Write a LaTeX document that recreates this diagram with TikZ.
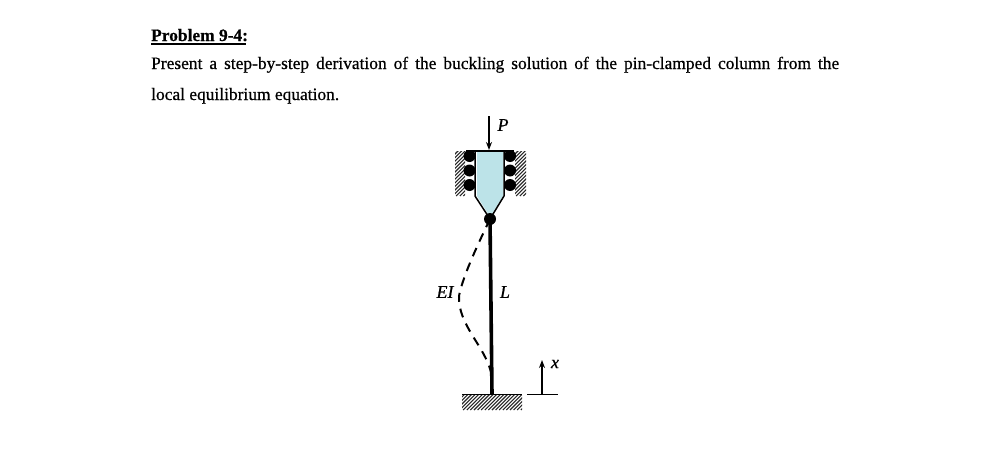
\documentclass[tikz,border=0pt]{standalone}
\usepackage{fontspec}
\setmainfont{Liberation Serif}
\newfontfamily\bodyfont[FakeBold=0.6]{Liberation Serif}
\usetikzlibrary{arrows.meta}
\definecolor{bodycyan}{HTML}{BCE3E8}
\tikzset{
  txt/.style={anchor=base west,inner sep=0pt,font=\bodyfont\fontsize{17.4}{20}\selectfont},
  lab/.style={inner sep=0pt,font=\bodyfont\itshape\fontsize{18}{20}\selectfont},
  hatchline/.style={line width=1.1pt,black!85},
  roller/.style={circle,fill=black,minimum size=12pt,inner sep=0pt},
  pin/.style={circle,fill=black,minimum size=12pt,inner sep=0pt},
  arr/.style={-{Stealth[length=8pt,width=6pt]},line width=1.3pt},
}
\newcommand{\hatchrect}[4]{%
  \begin{scope}
    \clip (#1,#2) rectangle (#3,#4);
    \foreach \k in {0,3.6,...,120}
      \draw[hatchline] (#1+\k-60,#4) -- ++(60,-60);
  \end{scope}}
\begin{document}
\begin{tikzpicture}[x=1pt,y=-1pt]
\useasboundingbox (0,0) rectangle (983,474);
% text
\node[txt] (title) at (151,41) {\textbf{Problem 9-4:}};
\draw[line width=1.2pt] (151,44) -- (246,44);
\node[txt] (l1) at (151,69) {\makebox[688pt][s]{Present a step-by-step derivation of the buckling solution of the pin-clamped column from the}};
\node[txt] (l2) at (151,100) {local equilibrium equation.};
% walls
\hatchrect{455}{151}{465}{196}
\hatchrect{515}{151}{526}{196}
% guide body
\fill[white] (475,150) rectangle (504,196);
\fill[bodycyan] (477,152) -- (477,196) -- (490,217) -- (503,196) -- (503,152) -- cycle;
\draw[line width=1.5pt] (475,150) -- (475,196) -- (490,219) -- (504,196) -- (504,150);
\draw[line width=2pt] (466,150.5) -- (514,150.5);
% rollers
\foreach \n/\px/\py in {a/469.5/156,b/469.5/170.5,c/469.5/185,d/510/156,e/510/170.5,f/510/185}
  \node[roller] (r\n) at (\px,\py) {};
% column
\node[pin] (pintop) at (490,219) {};
\coordinate (base) at (492,394);
\draw[line width=3.6pt] (pintop.center) -- (base);
% buckled shape
\draw[dash pattern=on 9pt off 7pt,line width=2pt] (pintop.center) .. controls (480,240) and (463,275) .. (459,296) .. controls (458,325) and (484,345) .. (491,372);
% ground
\hatchrect{462}{395}{522}{410}
\draw[line width=1.5pt] (462,394.5) -- (522,394.5);
% x axis
\coordinate (xl) at (527,394.5);
\coordinate (xr) at (558,394.5);
\coordinate (xo) at (542,394.5);
\coordinate (xt) at (542,360);
\draw[line width=1.3pt] (xl) -- (xr);
\draw[arr] (xo) -- (xt);
\node[lab] (xlab) at (555,364) {x};
% load
\coordinate (ptop) at (489,116);
\coordinate (pbot) at (489,150);
\draw[arr] (ptop) -- (pbot);
\node[lab] (plab) at (503,125) {P};
\node[lab] (ei) at (445,292) {EI};
\node[lab] (llab) at (505,292) {L};
\end{tikzpicture}
\end{document}
